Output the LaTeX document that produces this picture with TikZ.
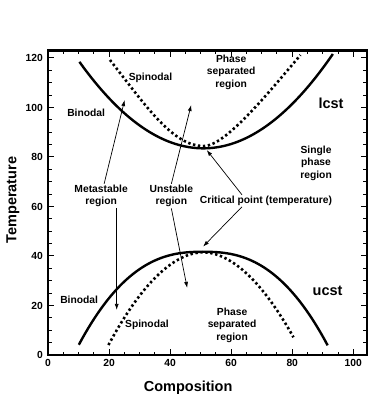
\documentclass[tikz,border=0pt]{standalone}
\usepackage{fontspec}
\setmainfont{Liberation Sans}
\usetikzlibrary{arrows.meta}

\begin{document}
\begin{tikzpicture}[x=3.053pt,y=2.475pt,
  lbl/.style={font=\bfseries\fontsize{10.3}{12.5}\selectfont,align=center,inner sep=1pt},
  big/.style={font=\bfseries\fontsize{14.5}{17}\selectfont,inner sep=0pt},
  binodal/.style={line width=2.4pt},
  spinodal/.style={line width=2.6pt,dash pattern=on 2.4pt off 2.6pt},
  >={Latex[length=6pt,width=4pt]}]

  \def\xmin{0}
  \def\xmax{104.5}
  \def\ymin{0}
  \def\ymax{123}

  \useasboundingbox (-15.72,-16.97) rectangle (108.74,143.43);

  % ticks
  \foreach \x in {5,10,...,100} {
    \draw[line width=1pt] (\x,\ymin) -- ++(0,1.4);
    \draw[line width=1pt] (\x,\ymax) -- ++(0,-1.4);
  }
  \foreach \x in {20,40,...,100} {
    \draw[line width=1pt] (\x,\ymin) -- ++(0,2.6);
    \draw[line width=1pt] (\x,\ymax) -- ++(0,-2.6);
  }
  \foreach \y in {5,10,...,120} {
    \draw[line width=1pt] (\xmin,\y) -- ++(1.2,0);
    \draw[line width=1pt] (\xmax,\y) -- ++(-1.2,0);
  }
  \foreach \y in {20,40,...,120} {
    \draw[line width=1pt] (\xmin,\y) -- ++(2.1,0);
    \draw[line width=1pt] (\xmax,\y) -- ++(-2.1,0);
  }

  % frame
  \draw[line width=2.6pt] (\xmin,\ymin) rectangle (\xmax,\ymax);

  % tick labels
  \foreach \x in {0,20,...,100}
  \node[lbl,below=3.5pt] (xl\x) at (\x,\ymin) {\x};
  \foreach \y in {0,20,...,120}
  \node[lbl,left=4pt] (yl\y) at (\xmin,\y) {\y};

  % axis labels
  \node[big,rotate=90] (ylab) at (-11.5,62.6) {Temperature};
  \node[big] (xlab) at (45.9,-13.3) {Composition};

  % lcst
  \draw[binodal] plot[domain=10.3:93.3,samples=80]
    (\x,{83.5+0.0212*(\x-50.9)*(\x-50.9)});
  \draw[spinodal] (20.3,119.2) .. controls (32.3,100.2) and (41,84.4) .. (51,84.4)
    .. controls (58,84.4) and (71.7,105.2) .. (82.7,121.2);

  % ucst
  \draw[binodal] plot[domain=10.1:91.6,samples=80]
    (\x,{41.7-0.00356*abs(\x-50.8)^2.5});
  \draw[spinodal] plot[domain=19.8:80.4,samples=70]
    (\x,{41.5-0.055*abs(\x-50.8)^1.9});

  % region labels
  \node[lbl] (phasetop) at (60.0,114.3) {Phase\\separated\\region};
  \node[lbl] (spintop) at (33.6,112.0) {Spinodal};
  \node[lbl] (bintop) at (12.5,97.8) {Binodal};
  \node[big] (lcst) at (92.7,101.8) {lcst};
  \node[lbl] (single) at (87.8,77.6) {Single\\phase\\region};
  \node[lbl] (meta) at (17.4,64.2) {Metastable\\region};
  \node[lbl] (unst) at (40.4,64.2) {Unstable\\region};
  \node[lbl] (crit) at (71.4,62.3) {Critical point (temperature)};
  \node[lbl] (binbot) at (10.2,22.2) {Binodal};
  \node[lbl] (spinbot) at (32.4,12.1) {Spinodal};
  \node[lbl] (phasebot) at (60.3,12.1) {Phase\\separated\\region};
  \node[big] (ucst) at (91.6,26.0) {ucst};

  % arrows
  \coordinate (metaup) at (25.1,103.0);
  \coordinate (metadown) at (22.5,18.2);
  \coordinate (unstup) at (46.9,101.0);
  \coordinate (unstdown) at (45.6,27.1);
  \coordinate (critup) at (52.0,82.8);
  \coordinate (critdown) at (50.8,43.8);

  \draw[->,line width=0.7pt] (meta) -- (metaup);
  \draw[->,line width=0.7pt] (meta.south -| metadown) -- (metadown);
  \draw[->,line width=0.7pt] (unst.north) -- (unstup);
  \draw[->,line width=0.7pt] (unst.south) -- (unstdown);
  \draw[->,line width=0.7pt] ([xshift=-24pt]crit.north) -- (critup);
  \draw[->,line width=0.7pt] ([xshift=-24pt]crit.south) -- (critdown);

\end{tikzpicture}
\end{document}
